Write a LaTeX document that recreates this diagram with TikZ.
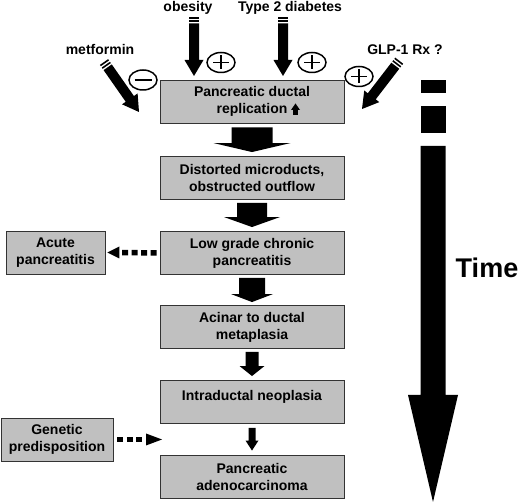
\documentclass[tikz,border=0pt]{standalone}
\usepackage{fontspec}
\setmainfont{Liberation Sans}
\usetikzlibrary{calc,shapes.geometric}
\definecolor{boxgray}{RGB}{192,192,192}
\tikzset{
  box/.style={draw=black!80, line width=0.9pt, fill=boxgray, minimum width=184pt, minimum height=43pt, inner sep=0pt, align=center, font=\bfseries\fontsize{14}{17}\selectfont},
  lbl/.style={font=\bfseries\fontsize{14}{17}\selectfont, inner sep=0pt, anchor=base},
  sign/.style={draw, ellipse, line width=1.5pt, minimum width=28pt, minimum height=20pt, inner sep=0pt},
  signbar/.style={line width=1.8pt},
  dotline/.style={line width=5.5pt, dash pattern=on 6pt off 3.5pt},
}
\newcommand\blockarrow[7]{%
  \fill ($(#1.south)+(-#4,#3)$) -- ($(#1.south)+(#4,#3)$) -- ($(#2.north)+(#4,-#7-#6)$) -- ($(#2.north)+(#5,-#7-#6)$) -- ($(#2.north)+(0,-#7)$) -- ($(#2.north)+(-#5,-#7-#6)$) -- ($(#2.north)+(-#4,-#7-#6)$) -- cycle;}
\newcommand\stripearrow[3]{%
  \begin{scope}[shift={(#1)}, rotate=#2]
    \fill (-#3,-5) rectangle (-#3+1.6,5);
    \fill (-#3+3.2,-5) rectangle (-#3+4.8,5);
    \fill (-#3+6.4,-5) -- (-16,-5) -- (-16,-9.5) -- (0,0) -- (-16,9.5) -- (-16,5) -- (-#3+6.4,5) -- cycle;
  \end{scope}}
\begin{document}
\begin{tikzpicture}[x=1pt,y=-1pt]
\useasboundingbox (0,0) rectangle (520,502);
% main boxes
\node[box] (b1) at (252,101.5) {Pancreatic ductal\\replication};
\node[box] (b2) at (252,178) {Distorted microducts,\\obstructed outflow};
\node[box] (b3) at (252,253) {Low grade chronic\\pancreatitis};
\node[box] (b4) at (252,327) {Acinar to ductal\\metaplasia};
\node[box] (b5) at (252,402) {Intraductal neoplasia\\[-8pt]\strut};
\node[box] (b6) at (252,476.5) {Pancreatic\\adenocarcinoma};
\node[box, minimum width=99pt] (acute) at (55.5,252.5) {Acute\\pancreatitis};
\node[box, minimum width=112pt] (gen) at (57,439.5) {Genetic\\predisposition};
% small up arrow in box 1
\fill ($(b1.center)+(39,8.5)$) -- ($(b1.center)+(48,8.5)$) -- ($(b1.center)+(43.5,2)$) -- cycle;
\fill ($(b1.center)+(41,8)$) rectangle ($(b1.center)+(46,13.5)$);
% block arrows between boxes
\blockarrow{b1}{b2}{4}{20.5}{38.5}{9}{4}
\blockarrow{b2}{b3}{3}{15}{28}{10}{4}
\blockarrow{b3}{b4}{3}{13}{21}{8}{3}
\blockarrow{b4}{b5}{3}{6.5}{12.5}{10}{4}
\blockarrow{b5}{b6}{4}{3.5}{6.5}{10}{4}
% top labels
\node[lbl] (obes) at (188,12) {obesity};
\node[lbl] (t2d) at (290,12) {Type 2 diabetes};
\node[lbl] (metf) at (100,55) {metformin};
\node[lbl] (glp) at (405,55) {GLP-1 Rx ?};
% striped arrows
\coordinate (otip) at (194,76);
\coordinate (ttip) at (283,76);
\coordinate (mtip) at (139,112);
\coordinate (gltip) at (362,109);
\stripearrow{otip}{-90}{59}
\stripearrow{ttip}{-90}{59}
\stripearrow{mtip}{-55}{61}
\stripearrow{gltip}{-127.6}{61}
% signs
\node[sign] (p1) at (221,62.5) {};
\node[sign] (p2) at (312,62.5) {};
\node[sign] (p3) at (359,76.5) {};
\node[sign] (m1) at (143,80) {};
\foreach \s in {p1,p2,p3}{
  \draw[signbar] ($(\s)+(-8,0)$) -- ($(\s)+(8,0)$) ($(\s)+(0,-7)$) -- ($(\s)+(0,7)$);
}
\draw[signbar] ($(m1)+(-8.5,0)$) -- ($(m1)+(8.5,0)$);
% dotted arrows
\draw[dotline] ($(b3.west)+(-3,0)$) -- ($(acute.east)+(16,0)$);
\fill ($(acute.east)+(2,0)$) -- ($(acute.east)+(14,-6)$) -- ($(acute.east)+(14,6)$) -- cycle;
\coordinate (gpt) at (162,439.5);
\draw[dotline] ($(gen.east)+(4,0)$) -- ($(gpt)+(-18,0)$);
\fill (gpt) -- ($(gpt)+(-16,-6)$) -- ($(gpt)+(-16,6)$) -- cycle;
% time arrow
\fill (420.5,80) rectangle (445.5,93);
\fill (420.5,106) rectangle (445.5,133);
\fill (420.5,146) -- (420.5,395) -- (408,395) -- (433,502) -- (458,395) -- (445.5,395) -- (445.5,146) -- cycle;
\node[font=\bfseries\fontsize{27}{30}\selectfont, anchor=base, inner sep=0pt] (time) at (487,278) {Time};
\end{tikzpicture}
\end{document}
